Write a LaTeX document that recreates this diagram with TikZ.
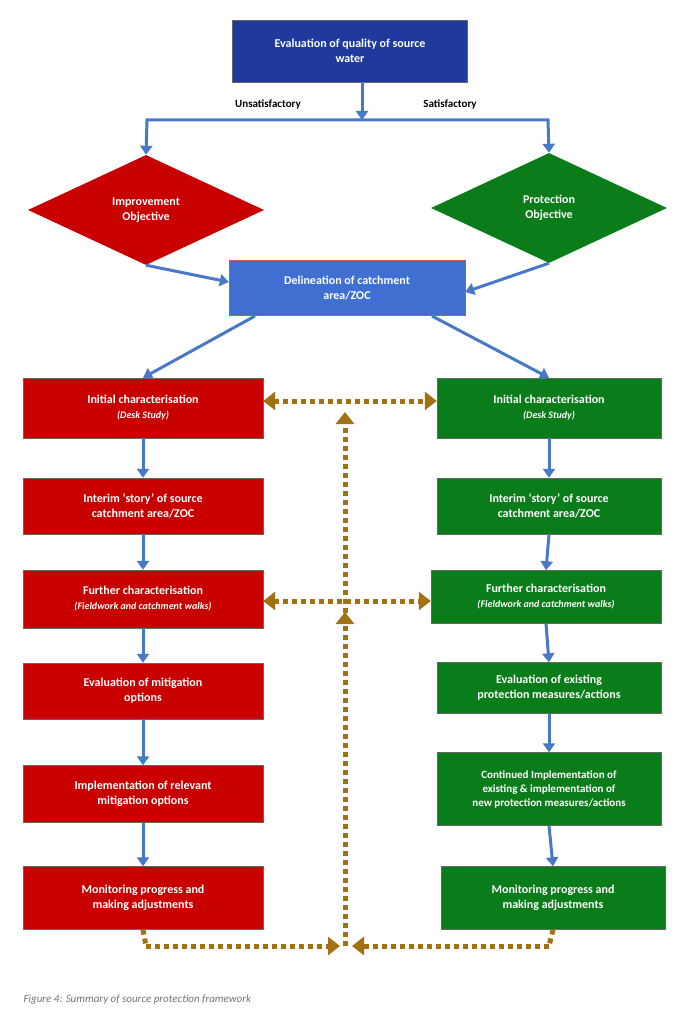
\documentclass[tikz,border=0pt]{standalone}
\usepackage{fontspec}
\setmainfont{Carlito}
\usetikzlibrary{arrows.meta,shapes.geometric,positioning}
\definecolor{darkblue}{HTML}{1F3A9C}
\definecolor{midblue}{HTML}{3F6FD0}
\definecolor{boxred}{HTML}{C80000}
\definecolor{boxgreen}{HTML}{0A7D1A}
\definecolor{arrowblue}{HTML}{4A78C8}
\definecolor{dotbrown}{HTML}{A27212}
\tikzset{
    stage/.style={
           rectangle,
           draw=black!60,
           text=white,
           font=\bfseries\fontsize{12}{15}\selectfont,
           minimum height=56pt,
           minimum width=240pt,
           align=center,
           inner sep=2pt,
           },
    redstage/.style={stage, fill=boxred},
    greenstage/.style={stage, fill=boxgreen, minimum width=224pt},
    choice/.style={
           diamond,
           aspect=2.15,
           minimum width=236pt,
           minimum height=110pt,
           inner sep=0pt,
           text=white,
           font=\bfseries\fontsize{12}{15}\selectfont,
           align=center,
           },
    flow/.style={draw=arrowblue, line width=3pt, -{Triangle[length=9pt,width=12pt]}},
    feedback/.style={draw=dotbrown, line width=5pt, dash pattern=on 5pt off 4pt,
           -{Triangle[length=12pt,width=18pt]}},
    twoway/.style={feedback, {Triangle[length=12pt,width=18pt]}-{Triangle[length=12pt,width=18pt]}},
    branch/.style={font=\bfseries\fontsize{11}{13}\selectfont},
}
\begin{document}
\begin{tikzpicture}[x=1pt,y=-1pt]
 \useasboundingbox (0,0) rectangle (696,1024);

 \node[stage, fill=darkblue, minimum width=235pt, minimum height=62pt] (SOURCE) at (350,51)
 {Evaluation of quality of source\\water};

 \node[choice, fill=boxred] (IMPROVE) at (146,210) {Improvement\\Objective};
 \node[choice, fill=boxgreen] (PROTECT) at (549,208) {Protection\\Objective};

 \node[stage, fill=midblue, draw=boxred!70, minimum width=236pt, minimum height=55pt] (DELIN) at (347,288)
 {Delineation of catchment\\area/ZOC};

 % left column
 \node[redstage, minimum height=60pt] (LINIT) at (143,408)
 {Initial characterisation\\{\fontsize{10}{12}\selectfont\itshape (Desk Study)}};
 \node[redstage] (LSTORY) at (143,506) {Interim `story' of source\\catchment area/ZOC};
 \node[redstage, minimum height=58pt] (LFURTHER) at (143,599)
 {Further characterisation\\{\fontsize{10}{12}\selectfont\itshape (Fieldwork and catchment walks)}};
 \node[redstage] (LEVAL) at (143,691) {Evaluation of mitigation\\options};
 \node[redstage, minimum height=57pt] (LIMPL) at (143,794) {Implementation of relevant\\mitigation options};
 \node[redstage, minimum height=63pt] (LMON) at (143,898) {Monitoring progress and\\making adjustments};

 % right column
 \node[greenstage, minimum height=60pt] (RINIT) at (549,408)
 {Initial characterisation\\{\fontsize{10}{12}\selectfont\itshape (Desk Study)}};
 \node[greenstage] (RSTORY) at (549,506) {Interim `story' of source\\catchment area/ZOC};
 \node[greenstage, minimum height=53pt, minimum width=230pt] (RFURTHER) at (546,597)
 {Further characterisation\\{\fontsize{10}{12}\selectfont\itshape (Fieldwork and catchment walks)}};
 \node[greenstage, minimum height=51pt] (REVAL) at (549,688) {Evaluation of existing\\protection measures/actions};
 \node[greenstage, minimum height=73pt, font=\bfseries\fontsize{11}{14}\selectfont] (RIMPL) at (549,789)
 {Continued Implementation of\\existing \& implementation of\\new protection measures/actions};
 \node[greenstage, minimum height=63pt] (RMON) at (553,898) {Monitoring progress and\\making adjustments};

 \coordinate (SPLIT) at (362,120);
 \coordinate (LTURN) at (147,120);
 \coordinate (RTURN) at (548,120);
 \coordinate (LLOW) at (146,946);
 \coordinate (RLOW) at (549,946);
 \coordinate (MID) at (345,946);

 \draw[flow] (362,82) -- (SPLIT);
 \draw[flow] (SPLIT) -- (LTURN) -- (IMPROVE.north);
 \draw[flow] (SPLIT) -- (RTURN) -- (PROTECT.north);
 \node[branch] at (268,104) {Unsatisfactory};
 \node[branch] at (450,104) {Satisfactory};

 \draw[flow] (IMPROVE.south) -- (DELIN.west |- 0,282);
 \draw[flow] (PROTECT.south) -- (DELIN.east |- 0,292);
 \draw[flow] (255,316) -- (LINIT.north);
 \draw[flow] (432,316) -- (RINIT.north);

 \foreach \a/\b in {LINIT/LSTORY,LSTORY/LFURTHER,LFURTHER/LEVAL,LEVAL/LIMPL,LIMPL/LMON,
                    RINIT/RSTORY,RSTORY/RFURTHER,RFURTHER/REVAL,REVAL/RIMPL,RIMPL/RMON}
   \draw[flow] (\a.south) -- (\b.north);

 % feedback loops
 \draw[twoway] (LINIT.east |- 0,401) -- (RINIT.west |- 0,401);
 \draw[twoway] (LFURTHER.east |- 0,601) -- (RFURTHER.west |- 0,601);
 \draw[feedback] (MID) -- (345,412);
 \draw[feedback] (MID) -- (345,612);
 \draw[feedback, -] (LMON.south) -- (LLOW);
 \draw[feedback] (LLOW) -- (340,946);
 \draw[feedback, -] (RMON.south) -- (RLOW);
 \draw[feedback] (RLOW) -- (352,946);

 \node[anchor=west, text=black!55, font=\itshape\fontsize{11}{13}\selectfont] (CAPTION) at (20,1000)
 {Figure 4: Summary of source protection framework};
\end{tikzpicture}
\end{document}
